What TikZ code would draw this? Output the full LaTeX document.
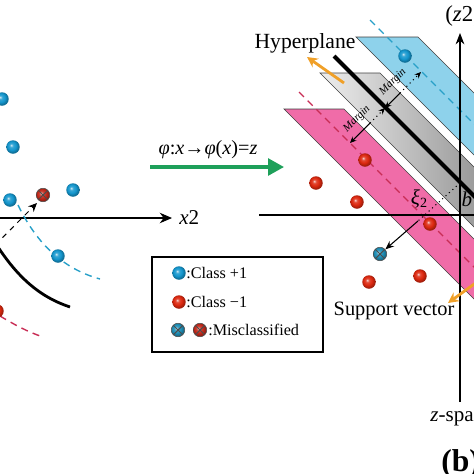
\documentclass[tikz,border=0pt]{standalone}
\usepackage{fontspec}
\setmainfont{Liberation Serif}
\usetikzlibrary{arrows.meta}
\definecolor{planeblue}{RGB}{142,210,235}
\definecolor{planepink}{RGB}{240,108,168}
\definecolor{dashblue}{RGB}{40,160,200}
\definecolor{dashpink}{RGB}{200,45,85}
\definecolor{ballblue}{RGB}{20,150,205}
\definecolor{ballred}{RGB}{220,40,15}
\definecolor{misblue}{RGB}{30,142,182}
\definecolor{misred}{RGB}{195,40,25}
\definecolor{arroworange}{RGB}{240,160,40}
\definecolor{arrowgreen}{RGB}{30,160,90}
\makeatletter
\pgfdeclareradialshading[tikz@ball]{softball}{\pgfqpoint{-7bp}{7bp}}{%
  color(0bp)=(tikz@ball!20!white);
  color(7bp)=(tikz@ball!85!white);
  color(16bp)=(tikz@ball);
  color(24bp)=(tikz@ball!75!black);
  color(50bp)=(tikz@ball!40!black)}
\makeatother
\tikzset{
  bball/.style={circle, inner sep=0pt, minimum size=0.27cm, shade, ball color=ballblue, shading=softball},
  rball/.style={circle, inner sep=0pt, minimum size=0.27cm, shade, ball color=ballred, shading=softball},
  misball/.style={circle, inner sep=0pt, minimum size=0.27cm, shade, ball color=#1, shading=softball, draw=black!70, line width=0.3pt,
    path picture={\draw[line width=0.6pt] (path picture bounding box.north west) -- (path picture bounding box.south east)
      (path picture bounding box.north east) -- (path picture bounding box.south west);}},
  planeedge/.style={draw=black!75, line width=0.4pt},
  thinline/.style={line width=0.6pt},
  dashb/.style={dashblue, line width=0.8pt, dash pattern=on 4pt off 3pt},
  dashp/.style={dashpink, line width=0.8pt, dash pattern=on 4pt off 3pt},
  orangearrow/.style={arroworange, line width=1.6pt, -{Stealth[length=6pt,width=6pt]}},
  margtip/.style={-{Stealth[length=3.6pt,width=3.2pt]}},
  lbl/.style={inner sep=0pt, font=\fontsize{12}{14}\selectfont},
  legtxt/.style={inner sep=0pt, anchor=west, font=\fontsize{9.2}{11}\selectfont},
  margtxt/.style={inner sep=0pt, rotate=45, font=\itshape\fontsize{6.3}{7}\selectfont}
}
\begin{document}
\begin{tikzpicture}[x=0.02cm,y=-0.02cm]
\useasboundingbox (0,0) rectangle (474,474);
\clip (0,0) rectangle (474,474);

% ---------- right: planes ----------
\fill[planeblue] (356,37) -- (418,37) -- (560,179) -- (498,179) -- cycle;
\draw[planeedge] (498,179) -- (356,37) -- (418,37) -- (560,179);
\shade[left color=gray!14, right color=gray!78] (320,73) -- (380,73) -- (474,167) -- (474,227) -- cycle;
\draw[planeedge] (480,233) -- (320,73) -- (380,73) -- (480,173);
\fill[planepink] (284,109) -- (344,109) -- (560,325) -- (500,325) -- cycle;
\draw[planeedge] (500,325) -- (284,109) -- (344,109) -- (560,325);

% center lines
\draw[dashb] (370,20) -- (520,170);
\draw[dashp] (299,92) -- (520,313);
\draw[line width=2.3pt] (334,56) -- (520,242);

% axes (z-space)
\coordinate (z2bot) at (460,402);
\coordinate (z2top) at (460,33);
\coordinate (z1left) at (259,215);
\coordinate (z1right) at (480,215);
\draw[thinline, -{Stealth[length=6.5pt,width=5pt]}] (z2bot) -- (z2top);
\draw[thinline] (z1left) -- (z1right);
\fill (460,215) circle (1.4);

% margin arrows
\coordinate (P) at (385,108);
\coordinate (Pu1) at (400,93);
\coordinate (Pu2) at (421,72);
\coordinate (Pl1) at (370,123);
\coordinate (Pl2) at (350,143);
\draw[thinline, margtip] (Pu1) -- (P);
\draw[thinline, dotted, margtip] (Pu1) -- (Pu2);
\draw[thinline, dotted, margtip] (Pl1) -- (P);
\draw[thinline, margtip] (Pl1) -- (Pl2);
\node[margtxt] (m1) at (393,82) {Margin};
\node[margtxt] (m2) at (357,119) {Margin};

% orange arrows
\coordinate (o1s) at (344,83);
\coordinate (o1e) at (307,57);
\draw[orangearrow] (o1s) -- (o1e);
\coordinate (o2s) at (488,274);
\coordinate (o2e) at (448,303);
\draw[orangearrow] (o2s) -- (o2e);

% right balls
\node[bball] (rb1) at (405,56) {};
\node[rball] (rr1) at (365,160) {};
\node[rball] (rr2) at (316,183) {};
\node[rball] (rr3) at (357,202) {};
\node[rball] (rr4) at (430,224) {};
\node[rball] (rr5) at (369,282) {};
\node[rball] (rr6) at (420,276) {};
\node[misball=misblue] (rbx) at (380,254) {};

% xi_2 distance
\coordinate (H2) at (460,183);
\coordinate (X1) at (418,221);
\draw[thinline, dotted] (H2) -- (X1);
\draw[thinline, -{Stealth[length=5pt,width=4pt]}] (X1) -- (rbx);
\node[lbl, font=\itshape\fontsize{12}{14}\selectfont] (xi) at (419,199) {ξ\raisebox{-0.35ex}{\fontsize{8}{9}\selectfont\upshape 2}};
\node[lbl, font=\itshape\fontsize{12}{14}\selectfont] (bl) at (467,199) {b};

% right labels
\node[lbl, font=\fontsize{12.3}{14}\selectfont] (hyp) at (305,43) {Hyperplane};
\node[lbl, anchor=west, font=\fontsize{13}{15}\selectfont] (z2l) at (445,16) {(\textit{z}2)};
\node[lbl, font=\fontsize{11.6}{14}\selectfont] (sv) at (394,311) {Support vector};
\node[lbl, anchor=west] (zsp) at (430,419) {\textit{z}-space};
\node[lbl, anchor=west, font=\bfseries\fontsize{18}{20}\selectfont] (bb) at (441,464) {(b)};

% ---------- mapping arrow ----------
\coordinate (g1) at (150,167);
\coordinate (g2) at (284,167);
\draw[arrowgreen, line width=1.8pt, -{Triangle[length=9pt,width=9.5pt]}] (g1) -- (g2);
\node[lbl, font=\fontsize{11.5}{14}\selectfont] (phi) at (208,150) {\textit{φ}:\textit{x}→\textit{φ}(\textit{x})=\textit{z}};

% ---------- left: input space ----------
\coordinate (x2l) at (-5,218);
\coordinate (x2r) at (172,218);
\draw[thinline, -{Stealth[length=7pt,width=6pt]}] (x2l) -- (x2r);
\node[lbl, anchor=west] (x2) at (179,218) {\textit{x}2};

\draw[dashb] (18,205) .. controls (35,240) and (60,268) .. (100,279);
\draw[line width=1.6pt] (-4,244) .. controls (18,278) and (40,297) .. (70,307);
\draw[dashp] (0,316) .. controls (15,325) and (28,332) .. (43,337);

\coordinate (da1) at (-5,245);
\coordinate (da2) at (37,203);
\draw[thinline, dashed, -{Stealth[length=5pt,width=4.5pt]}] (da1) -- (da2);

\node[bball] (lb1) at (2,99) {};
\node[bball] (lb2) at (13,147) {};
\node[bball] (lb3) at (10,200) {};
\node[bball] (lb4) at (73,190) {};
\node[bball] (lb5) at (58,256) {};
\node[rball] (lr1) at (-3,311) {};
\node[misball=misred] (lrx) at (43,195) {};

% ---------- legend ----------
\draw[line width=1.2pt] (152,257) rectangle (323,352);
\node[bball] (k1) at (179,273) {};
\node[legtxt] (t1) at (186,273) {:Class +1};
\node[rball] (k2) at (179,302) {};
\node[legtxt] (t2) at (186,302) {:Class −1};
\node[misball=misblue] (k3) at (178,330) {};
\node[misball=misred] (k4) at (200,330) {};
\node[legtxt] (t3) at (208,330) {:Misclassified};
\end{tikzpicture}
\end{document}
